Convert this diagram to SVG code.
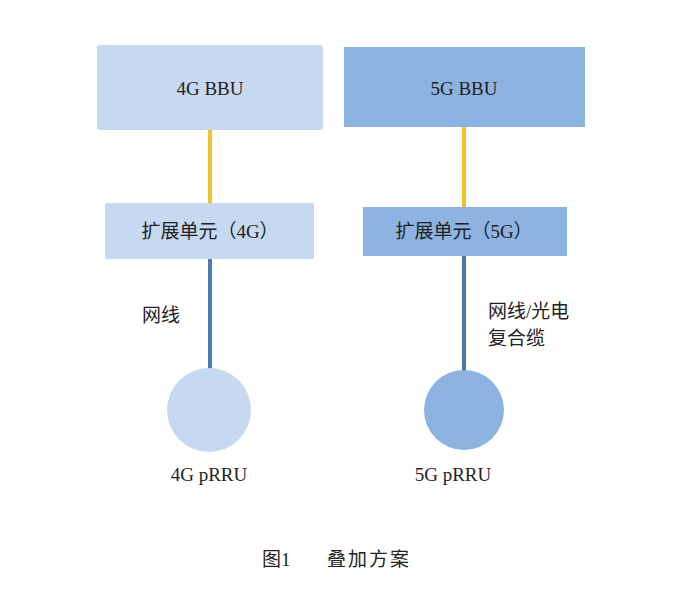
<svg xmlns="http://www.w3.org/2000/svg" width="700" height="602" viewBox="0 0 700 602">
<style>
text{font-family:"Liberation Serif","Noto Sans CJK SC",serif;font-size:19px;fill:#222}
.l4{fill:#c6d9f0}.l5{fill:#8db3e0}
.y{stroke:#f2c12e;stroke-width:4}.b{stroke:#4a7ab0;stroke-width:4}
</style>
<rect width="700" height="602" fill="#fff"/>
<g id="connectors">
<line class="y" x1="210" y1="130" x2="210" y2="203"/>
<line class="y" x1="464" y1="127" x2="464" y2="207"/>
<line class="b" x1="210" y1="259" x2="210" y2="370"/>
<line class="b" x1="464" y1="256" x2="464" y2="372"/>
</g>
<g id="bbu4g"><rect class="l4" x="97" y="45" width="226" height="85" rx="3"/><text x="210" y="95" text-anchor="middle">4G BBU</text></g>
<g id="bbu5g"><rect class="l5" x="344" y="47" width="241" height="80"/><text x="464" y="95" text-anchor="middle">5G BBU</text></g>
<g id="ext4g"><rect class="l4" x="105" y="203" width="209" height="56" rx="2"/><text x="210" y="238" text-anchor="middle">扩展单元（4G）</text></g>
<g id="ext5g"><rect class="l5" x="363" y="207" width="204" height="49"/><text x="464" y="238" text-anchor="middle">扩展单元（5G）</text></g>
<g id="rru4g"><circle class="l4" cx="209" cy="410" r="42"/><text x="209" y="481" text-anchor="middle">4G pRRU</text></g>
<g id="rru5g"><circle class="l5" cx="464" cy="410" r="40"/><text x="453" y="481" text-anchor="middle">5G pRRU</text></g>
<text x="142" y="322">网线</text>
<text x="488" y="318">网线/光电</text>
<text x="488" y="345">复合缆</text>
<text x="262" y="566" font-size="21">图1</text>
<text x="327" y="566" font-size="21" letter-spacing="2">叠加方案</text>
</svg>
